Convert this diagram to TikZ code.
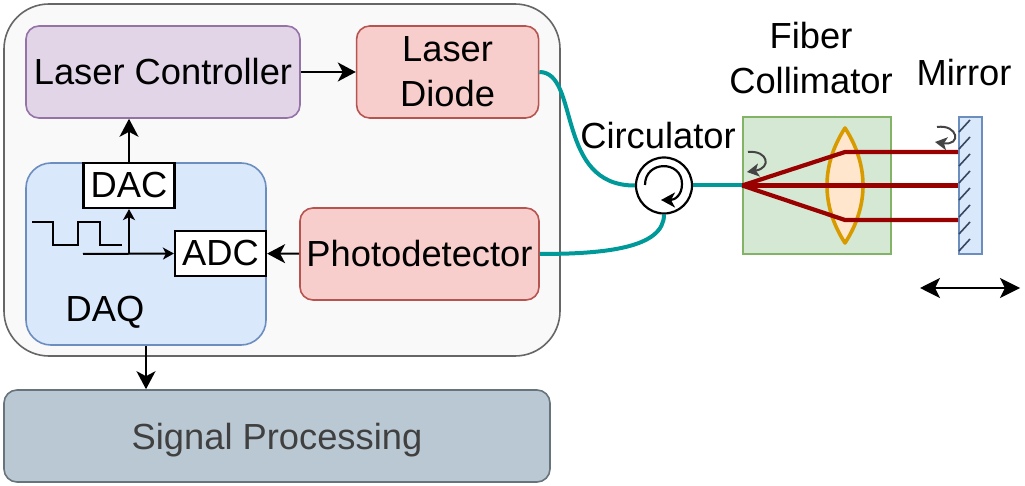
\documentclass[tikz,border=0pt]{standalone}
\usepackage{fontspec}
\setmainfont{Liberation Sans}
\usepackage{xcolor}
\usetikzlibrary{calc,positioning,arrows.meta}
\definecolor{panelfill}{HTML}{F9F9F9}
\definecolor{paneldraw}{HTML}{666666}
\definecolor{purplefill}{HTML}{E1D5E7}
\definecolor{purpledraw}{HTML}{9673A6}
\definecolor{redfill}{HTML}{F8CECC}
\definecolor{reddraw}{HTML}{B85450}
\definecolor{bluefill}{HTML}{DAE8FC}
\definecolor{bluedraw}{HTML}{6C8EBF}
\definecolor{greenfill}{HTML}{D5E8D4}
\definecolor{greendraw}{HTML}{82B366}
\definecolor{greyfill}{HTML}{BAC8D3}
\definecolor{greydraw}{HTML}{68747C}
\definecolor{lensfill}{HTML}{FFE6CC}
\definecolor{lensdraw}{HTML}{D79B00}
\definecolor{fibercol}{HTML}{009999}
\definecolor{raycol}{HTML}{990000}
\definecolor{turncol}{HTML}{444444}
\tikzset{
  line/.style = {-{Stealth[length=18pt,width=19pt,inset=5pt]}, line width=2pt},
  thinline/.style = {-{Stealth[length=11pt,width=12pt,inset=3pt]}, line width=2pt},
  turn/.style = {-{Stealth[length=12pt,width=13pt,inset=3pt]}, line width=2pt, draw=turncol},
  fiber/.style = {line width=4pt, draw=fibercol},
  ray/.style = {line width=4.2pt, draw=raycol, line join=round},
  box/.style = {draw, line width=1.6pt, align=center, inner sep=0pt, font=\fontsize{36.3}{45}\selectfont},
  roundbox/.style = {box, rounded corners=13pt},
  conv/.style = {box, line width=2.2pt, fill=white, minimum width=91pt, minimum height=45pt},
  caption/.style = {align=center, inner sep=0pt, font=\fontsize{36.3}{45}\selectfont},
}
\begin{document}
\begin{tikzpicture}[x=1pt,y=-1pt]
  \useasboundingbox (0,0) rectangle (1025,486);
  % control side
  \node[roundbox, rounded corners=45pt, fill=panelfill, draw=paneldraw, minimum width=556pt, minimum height=352pt] (panel) at (282,180) {};
  \node[roundbox, fill=purplefill, draw=purpledraw, minimum width=274pt, minimum height=92pt] (ctrl) at (163,72) {Laser Controller};
  \node[roundbox, fill=redfill, draw=reddraw, minimum width=182pt, minimum height=92pt, right=55pt of ctrl] (diode) {Laser\\Diode};
  \node[roundbox, rounded corners=25pt, fill=bluefill, draw=bluedraw, minimum width=240pt, minimum height=182pt] (daq) at (146,254) {};
  \node[caption] (daqlabel) at (105,312) {DAQ};
  \node[conv] (dac) at (129,185.5) {DAC};
  \node[conv] (adc) at (220.5,253.5) {ADC};
  \node[roundbox, fill=redfill, draw=reddraw, minimum width=239pt, minimum height=92pt] (pd) at (419.5,254) {Photodetector};
  \node[roundbox, fill=greyfill, draw=greydraw, text=black!75, text depth=0pt, minimum width=546pt, minimum height=92pt] (signal) at (277,436) {Signal Processing};
  % optics
  \node[circle, draw, line width=2.2pt, fill=white, minimum size=56pt, inner sep=0pt] (circ) at (664,185.5) {};
  \node[caption] (circlabel) at (658,136) {Circulator};
  \node[box, fill=greenfill, draw=greendraw, minimum width=148pt, minimum height=137pt] (collim) at (817,185.5) {};
  \node[caption] (collimlabel) at (811,58) {Fiber\\Collimator};
  \node[box, fill=bluefill, draw=bluedraw, minimum width=23pt, minimum height=137pt] (mirror) at (970.5,185.5) {};
  \node[caption] (mirrorlabel) at (964,73) {Mirror};
  \foreach \y in {132,149,...,251}
    \draw[line width=1.6pt, draw=bluedraw!50!black] (959,\y) -- (970,\y-12);
  % lens
  \coordinate (lenstop) at (845,128);
  \coordinate (lensbot) at (845,243);
  \draw[line width=3.6pt, draw=lensdraw, fill=lensfill, line join=round] (lenstop) .. controls (821,165) and (821,206) .. (lensbot) .. controls (869,206) and (869,165) .. (lenstop) -- cycle;
  % beams
  \coordinate (bendtop) at (845,152);
  \coordinate (bendbot) at (845,220);
  \draw[ray] (collim.west) -- (bendtop) -- (bendtop -| mirror.west);
  \draw[ray] (collim.west) -- (mirror.west);
  \draw[ray] (collim.west) -- (bendbot) -- (bendbot -| mirror.west);
  % fibers
  \draw[fiber] (diode.east) .. controls (580,72) and (555,186) .. (circ.west);
  \draw[fiber] (pd.east) .. controls (605,254) and (664,248) .. (circ.south);
  \draw[fiber] (circ.east) -- (collim.west);
  % arrows
  \draw[line] (ctrl) -- (diode);
  \draw[line] (dac.north) -- (dac.north |- ctrl.south);
  \draw[line] (pd) -- (adc);
  \draw[line] (daq.south) -- (signal.north -| daq.south);
  \coordinate (sigstart) at (83,254);
  \coordinate (sigbranch) at (129,254);
  \draw[thinline] (sigstart) -- (adc.west);
  \draw[thinline] (sigbranch) -- (dac.south);
  \draw[line width=2pt] (32,222) -- (53,222) -- (53,245) -- (78,245) -- (78,222) -- (100,222) -- (100,245) -- (122,245);
  % turning arrows
  \draw[line width=2.2pt, -{Stealth[length=14pt,width=15pt,inset=4pt]}] (645,185) .. controls (645,160) and (682,160) .. (682,184) .. controls (682,195) and (675,200) .. (661,200);
  \draw[turn] (748,152) .. controls (768,150) and (772,168) .. (747,172);
  \draw[turn] (937,127) .. controls (958,124) and (962,146) .. (935,142);
  % travel
  \coordinate (travelL) at (920,288);
  \coordinate (travelR) at (1020,288);
  \draw[{Stealth[length=20pt,width=20pt,inset=5pt]}-{Stealth[length=20pt,width=20pt,inset=5pt]}, line width=2pt] (travelL) -- (travelR);
\end{tikzpicture}
\end{document}
